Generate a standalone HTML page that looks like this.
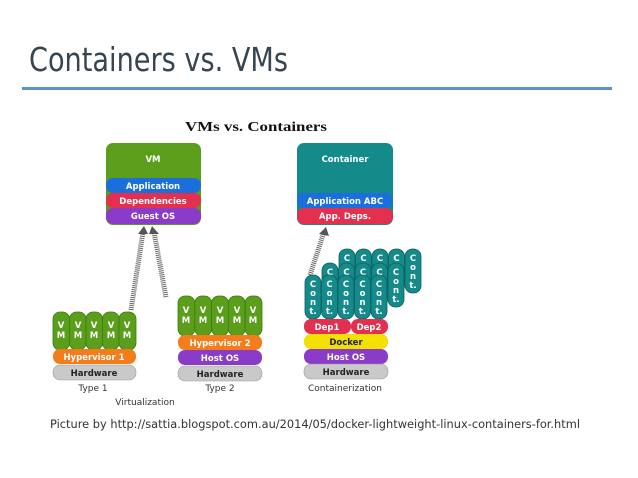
<!DOCTYPE html>
<html><head><meta charset="utf-8"><style>
html,body{margin:0;padding:0;background:#fff;width:638px;height:478px;overflow:hidden}
svg{display:block}
.b{font-family:"DejaVu Sans","Liberation Sans",sans-serif;font-weight:bold;font-size:8.5px;fill:#fff;text-anchor:middle}
.k{font-family:"DejaVu Sans","Liberation Sans",sans-serif;font-weight:bold;font-size:8.5px;fill:#222;text-anchor:middle}
.s{font-family:"DejaVu Sans","Liberation Sans",sans-serif;font-size:9px;fill:#333;text-anchor:middle}
</style></head><body>
<svg width="638" height="478" viewBox="0 0 638 478" xmlns="http://www.w3.org/2000/svg">
<text x="29" y="71" font-family="DejaVu Sans, Liberation Sans, sans-serif" font-size="33" fill="#36454f" textLength="259" lengthAdjust="spacingAndGlyphs">Containers vs. VMs</text>
<rect x="22" y="87" width="590" height="3" fill="#5b93c7"/>
<text x="256" y="131" font-family="Liberation Serif, serif" font-weight="bold" font-size="14" fill="#111" text-anchor="middle" textLength="142" lengthAdjust="spacingAndGlyphs">VMs vs. Containers</text>

<!-- arrows -->
<g stroke="#666" stroke-width="5" stroke-dasharray="1 1" fill="none">
<line x1="131" y1="310" x2="143" y2="232"/>
<line x1="166" y1="297" x2="154" y2="232"/>
<line x1="310" y1="275" x2="324" y2="232"/>
</g>
<g fill="#555"><polygon points="138,234 148,234 144,226"/><polygon points="149,234 159,234 152,226"/><polygon points="319,234 329,236 326,227"/></g>

<!-- VM box -->
<rect x="106" y="143" width="95" height="82" rx="7" fill="#5a9e1c"/>
<text class="b" x="153" y="162">VM</text>
<rect x="106" y="178" width="95" height="15" rx="7" fill="#1a6fdc"/>
<text class="b" x="153" y="189">Application</text>
<rect x="106" y="193" width="95" height="15" rx="7" fill="#e3304e"/>
<text class="b" x="153" y="204">Dependencies</text>
<rect x="106" y="208" width="95" height="16" rx="7" fill="#8a3cc8"/>
<text class="b" x="153" y="219">Guest OS</text>

<!-- Container box -->
<rect x="297" y="143" width="96" height="82" rx="7" fill="#148a8a"/>
<text class="b" x="345" y="162">Container</text>
<rect x="297" y="193" width="96" height="15" rx="7" fill="#1a6fdc"/>
<text class="b" x="345" y="204">Application ABC</text>
<rect x="297" y="208" width="96" height="16" rx="7" fill="#e3304e"/>
<text class="b" x="345" y="219">App. Deps.</text>

<!-- Type 1 -->
<g fill="#5a9e1c" stroke="#3f7a10" stroke-width="0.8">
<rect x="53" y="312" width="16.5" height="38" rx="7"/><rect x="69.5" y="312" width="16.5" height="38" rx="7"/><rect x="86" y="312" width="16.5" height="38" rx="7"/><rect x="102.5" y="312" width="16.5" height="38" rx="7"/><rect x="119" y="312" width="17" height="38" rx="7"/>
<rect x="178" y="296" width="16.8" height="40" rx="7"/><rect x="194.8" y="296" width="16.8" height="40" rx="7"/><rect x="211.6" y="296" width="16.8" height="40" rx="7"/><rect x="228.4" y="296" width="16.8" height="40" rx="7"/><rect x="245.2" y="296" width="16.8" height="40" rx="7"/>
</g>
<g>
<text class="b" x="61" y="328">V</text><text class="b" x="61" y="338">M</text>
<text class="b" x="78" y="328">V</text><text class="b" x="78" y="338">M</text>
<text class="b" x="94" y="328">V</text><text class="b" x="94" y="338">M</text>
<text class="b" x="111" y="328">V</text><text class="b" x="111" y="338">M</text>
<text class="b" x="127" y="328">V</text><text class="b" x="127" y="338">M</text>
<text class="b" x="186" y="313">V</text><text class="b" x="186" y="323">M</text>
<text class="b" x="203" y="313">V</text><text class="b" x="203" y="323">M</text>
<text class="b" x="220" y="313">V</text><text class="b" x="220" y="323">M</text>
<text class="b" x="237" y="313">V</text><text class="b" x="237" y="323">M</text>
<text class="b" x="253" y="313">V</text><text class="b" x="253" y="323">M</text>
</g>
<rect x="53" y="349" width="83" height="15" rx="7" fill="#f27d1a"/>
<text class="b" x="94" y="360">Hypervisor 1</text>
<rect x="53" y="365" width="83" height="15" rx="7" fill="#c9c9c9" stroke="#999" stroke-width="0.6"/>
<text class="k" x="94" y="376">Hardware</text>
<text class="s" x="93" y="391">Type 1</text>

<rect x="178" y="335" width="84" height="15" rx="7" fill="#f27d1a"/>
<text class="b" x="220" y="346">Hypervisor 2</text>
<rect x="178" y="350" width="84" height="15" rx="7" fill="#8a3cc8"/>
<text class="b" x="220" y="361">Host OS</text>
<rect x="178" y="366" width="84" height="15" rx="7" fill="#c9c9c9" stroke="#999" stroke-width="0.6"/>
<text class="k" x="220" y="377">Hardware</text>
<text class="s" x="220" y="391">Type 2</text>
<text class="s" x="145" y="405">Virtualization</text>

<!-- containers -->
<g fill="#148a8a" stroke="#0b5f5f" stroke-width="0.8">
<rect x="339" y="249" width="16" height="44" rx="7.5"/><rect x="355.5" y="249" width="16" height="44" rx="7.5"/><rect x="372" y="249" width="16" height="44" rx="7.5"/><rect x="388.5" y="249" width="16" height="44" rx="7.5"/><rect x="405" y="249" width="16" height="44" rx="7.5"/>
</g>
<g><text class="b" x="347" y="261">C</text><text class="b" x="363.5" y="261">C</text><text class="b" x="380" y="261">C</text><text class="b" x="396.5" y="261">C</text>
<text class="b" x="413" y="261">C</text><text class="b" x="413" y="270">o</text><text class="b" x="413" y="279">n</text><text class="b" x="413" y="288">t.</text></g>
<g fill="#148a8a" stroke="#0b5f5f" stroke-width="0.8">
<rect x="322" y="263" width="16" height="44" rx="7.5"/><rect x="338.5" y="263" width="16" height="44" rx="7.5"/><rect x="355" y="263" width="16" height="44" rx="7.5"/><rect x="371.5" y="263" width="16" height="44" rx="7.5"/><rect x="388" y="263" width="16" height="44" rx="7.5"/>
</g>
<g><text class="b" x="330" y="275">C</text><text class="b" x="346.5" y="275">C</text><text class="b" x="363" y="275">C</text><text class="b" x="379.5" y="275">C</text>
<text class="b" x="396" y="275">C</text><text class="b" x="396" y="284">o</text><text class="b" x="396" y="293">n</text><text class="b" x="396" y="302">t.</text></g>
<g fill="#148a8a" stroke="#0b5f5f" stroke-width="0.8">
<rect x="305" y="275" width="16" height="44" rx="7.5"/><rect x="321.5" y="275" width="16" height="44" rx="7.5"/><rect x="338" y="275" width="16" height="44" rx="7.5"/><rect x="354.5" y="275" width="16" height="44" rx="7.5"/><rect x="371" y="275" width="16" height="44" rx="7.5"/>
</g>
<g>
<text class="b" x="313" y="287">C</text><text class="b" x="313" y="296">o</text><text class="b" x="313" y="305">n</text><text class="b" x="313" y="314">t.</text>
<text class="b" x="329.5" y="287">C</text><text class="b" x="329.5" y="296">o</text><text class="b" x="329.5" y="305">n</text><text class="b" x="329.5" y="314">t.</text>
<text class="b" x="346" y="287">C</text><text class="b" x="346" y="296">o</text><text class="b" x="346" y="305">n</text><text class="b" x="346" y="314">t.</text>
<text class="b" x="362.5" y="287">C</text><text class="b" x="362.5" y="296">o</text><text class="b" x="362.5" y="305">n</text><text class="b" x="362.5" y="314">t.</text>
<text class="b" x="379" y="287">C</text><text class="b" x="379" y="296">o</text><text class="b" x="379" y="305">n</text><text class="b" x="379" y="314">t.</text>
</g>
<rect x="304" y="319" width="47" height="15" rx="7" fill="#e3304e"/>
<text class="b" x="327" y="330">Dep1</text>
<rect x="351" y="319" width="37" height="15" rx="7" fill="#e3304e"/>
<text class="b" x="369" y="330">Dep2</text>
<rect x="304" y="334" width="84" height="15" rx="7" fill="#f2e000"/>
<text class="k" x="346" y="345">Docker</text>
<rect x="304" y="349" width="84" height="15" rx="7" fill="#8a3cc8"/>
<text class="b" x="346" y="360">Host OS</text>
<rect x="304" y="364" width="84" height="15" rx="7" fill="#c9c9c9" stroke="#999" stroke-width="0.6"/>
<text class="k" x="346" y="375">Hardware</text>
<text class="s" x="345" y="391">Containerization</text>

<text x="50" y="428" font-family="DejaVu Sans, Liberation Sans, sans-serif" font-size="11.3" fill="#333" textLength="530" lengthAdjust="spacingAndGlyphs">Picture by http://sattia.blogspot.com.au/2014/05/docker-lightweight-linux-containers-for.html</text>
</svg>
</body></html>
